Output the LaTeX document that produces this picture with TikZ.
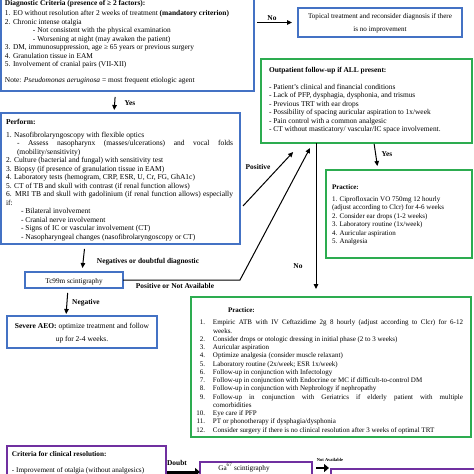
\documentclass[tikz,border=0pt]{standalone}
\usepackage{fontspec}
\setmainfont{Liberation Serif}
\usetikzlibrary{arrows.meta}
\definecolor{bbox}{RGB}{68,114,196}
\definecolor{gbox}{RGB}{45,172,80}
\definecolor{pbox}{RGB}{112,48,160}
\newcommand\numit[1]{\makebox[13pt][r]{#1}\hspace*{8pt}}
\tikzset{
 box/.style={draw, rectangle, anchor=north west, inner sep=0pt, outer sep=0pt},
 bluebox/.style={box, draw=bbox, line width=1.4pt},
 greenbox/.style={box, draw=gbox, line width=1.8pt},
 purplebox/.style={box, draw=pbox, line width=1.6pt},
 txt/.style={anchor=north west, inner sep=0pt, outer sep=0pt, align=left, font=\fontsize{7.4}{8.5}\selectfont},
 ctxt/.style={anchor=north, inner sep=0pt, outer sep=0pt, align=center, font=\fontsize{7.4}{8.5}\selectfont},
 btxt/.style={anchor=base, inner sep=0pt, outer sep=0pt, font=\fontsize{7.2}{8.5}\selectfont},
 lbl/.style={anchor=base, inner sep=0pt, outer sep=0pt, font=\fontsize{7.4}{8.5}\selectfont\bfseries},
 arr/.style={draw=black, line width=1pt, -{Triangle[length=5pt,width=4.5pt]}},
 fat/.style={draw=black, line width=3pt, -{Triangle[length=5pt,width=8pt]}},
}
\begin{document}
\begin{tikzpicture}[x=1pt,y=-1pt]
\useasboundingbox (0,0) rectangle (474,474);
\clip (0,0) rectangle (474,474);
\fill[white] (0,0) rectangle (474,474);

% boxes
\node[bluebox, minimum width=253pt, minimum height=111pt] (b1) at (1,-20) {};
\node[bluebox, minimum width=239pt, minimum height=131pt] (b2) at (1,113) {};
\node[bluebox, minimum width=164pt, minimum height=29pt] (topical) at (298,8) {};
\node[greenbox, minimum width=211pt, minimum height=84pt] (out) at (261,59) {};
\node[greenbox, minimum width=146pt, minimum height=88pt] (prac1) at (326,170) {};
\node[bluebox, minimum width=98pt, minimum height=16pt] (tc) at (25,272) {};
\node[bluebox, minimum width=150pt, minimum height=32pt] (severe) at (7,316) {};
\node[greenbox, minimum width=280pt, minimum height=140pt] (prac2) at (191,297) {};
\node[purplebox, minimum width=159pt, minimum height=60pt] (crit) at (7,446) {};
\node[purplebox, minimum width=112pt, minimum height=50pt] (ga) at (200,462) {};
\node[purplebox, minimum width=150pt, minimum height=40pt] (fin) at (331,469) {};

% texts
\node[txt] (b1t) at (5,-0.95) {\strut\textbf{Diagnostic Criteria (presence of ≥ 2 factors):}\\[2pt]
1. EO without resolution after 2 weeks of treatment \textbf{(mandatory criterion)}\\
2. Chronic intense otalgia\\
\hspace*{28pt}- Not consistent with the physical examination\\
\hspace*{28pt}- Worsening at night (may awaken the patient)\\
3. DM, immunosuppression, age ≥ 65 years or previous surgery\\
4. Granulation tissue in EAM\\
5. Involvement of cranial pairs (VII-XII)\\[7.5pt]
Note: \textit{Pseudomonas aeruginosa} = most frequent etiologic agent};

\node[txt, font=\fontsize{7.5}{8.5}\selectfont] (b2t) at (6,118.05) {\strut\textbf{Perform:}\\[4.5pt]
1. Nasofibrolaryngoscopy with flexible optics\\
\hspace*{11pt}\makebox[216pt][s]{- Assess nasopharynx (masses/ulcerations) and vocal folds}\\
\hspace*{11pt}(mobility/sensitivity)\\
2. Culture (bacterial and fungal) with sensitivity test\\
3. Biopsy (if presence of granulation tissue in EAM)\\
4. Laboratory tests (hemogram, CRP, ESR, U, Cr, FG, GhA1c)\\
5. CT of TB and skull with contrast (if renal function allows)\\
\makebox[227pt][s]{6. MRI TB and skull with gadolinium (if renal function allows) especially}\\
if:\\
\hspace*{15pt}- Bilateral involvement\\
\hspace*{15pt}- Cranial nerve involvement\\
\hspace*{15pt}- Signs of IC or vascular involvement (CT)\\
\hspace*{15pt}- Nasopharyngeal changes (nasofibrolaryngoscopy or CT)};

\node[ctxt, font=\fontsize{7.1}{8.5}\selectfont] (topt) at (380,12.05) {\strut Topical treatment and reconsider diagnosis if there\\[4.5pt] is no improvement};

\node[txt] (outt) at (269,66.05) {\strut\textbf{Outpatient follow-up if ALL present:}\\[8.5pt]
- Patient's clinical and financial conditions\\
- Lack of PFP, dysphagia, dysphonia, and trismus\\
- Previous TRT with ear drops\\
- Possibility of spacing auricular aspiration to 1x/week\\
- Pain control with a common analgesic\\
- CT without masticatory/ vascular/IC space involvement.};

\node[txt, font=\fontsize{7}{8.5}\selectfont] (prac1t) at (332,183.05) {\strut\textbf{Practice:}\\[3.5pt]
1. Ciprofloxacin VO 750mg 12 hourly\\
(adjust according to Clcr) for 4-6 weeks\\
2. Consider ear drops (1-2 weeks)\\
3. Laboratory routine (1x/week)\\
4. Auricular aspiration\\
5. Analgesia};

\node[btxt] (tct) at (74,283) {Tc99m scintigraphy};

\node[ctxt, font=\fontsize{7.5}{8.5}\selectfont] (sevt) at (82,322.05) {\strut\textbf{Severe AEO:} optimize treatment and follow\\[4.5pt] up for 2-4 weeks.};

\node[txt, font=\fontsize{7}{8.25}\selectfont] (prac2t) at (192,307.2) {\strut\hspace*{36pt}\textbf{Practice:}\\[3.75pt]
\numit{1.}\makebox[250pt][s]{Empiric ATB with IV Ceftazidime 2g 8 hourly (adjust according to Clcr) for 6-12}\\
\hspace*{21pt}weeks.\\
\numit{2.}Consider drops or otologic dressing in initial phase (2 to 3 weeks)\\
\numit{3.}Auricular aspiration\\
\numit{4.}Optimize analgesia (consider muscle relaxant)\\
\numit{5.}Laboratory routine (2x/week; ESR 1x/week)\\
\numit{6.}Follow-up in conjunction with Infectology\\
\numit{7.}Follow-up in conjunction with Endocrine or MC if difficult-to-control DM\\
\numit{8.}Follow-up in conjunction with Nephrology if nephropathy\\
\numit{9.}\makebox[250pt][s]{Follow-up in conjunction with Geriatrics if elderly patient with multiple}\\
\hspace*{21pt}comorbidities\\
\numit{10.}Eye care if PFP\\
\numit{11.}PT or phonotherapy if dysphagia/dysphonia\\
\numit{12.}Consider surgery if there is no clinical resolution after 3 weeks of optimal TRT};

\node[txt, font=\fontsize{7.2}{8.5}\selectfont] (critt) at (12,450.05) {\strut\textbf{Criteria for clinical resolution:}\\[7.5pt]
- Improvement of otalgia (without analgesics)};

\node[btxt] (gat) at (244,470) {Ga\textsuperscript{67} scintigraphy};

% labels
\node[lbl] (lno1) at (272,20) {No};
\node[lbl] (lyes1) at (130,105) {Yes};
\node[lbl] (lyes2) at (387,156) {Yes};
\node[lbl] (lpos) at (258,169) {Positive};
\node[lbl] (lno2) at (298,268) {No};
\node[lbl] (lneg1) at (148,263) {Negatives or doubtful diagnostic};
\node[lbl] (lpna) at (175,288) {Positive or Not Available};
\node[lbl] (lneg2) at (86,304) {Negative};
\node[lbl] (ldoubt) at (177,465) {Doubt};
\node[lbl, font=\fontsize{4.5}{5}\selectfont\bfseries] (lna) at (330,461) {Not Available};

% connectors
\draw[arr, shorten <=3pt, shorten >=6pt] (b1.east |- topical.west) -- (topical.west);
\draw[arr, shorten <=6pt, shorten >=3pt] ([xshift=-12pt]b1.south) -- ([xshift=-6.5pt]b2.north);
\draw[arr, shorten <=1pt, shorten >=4pt] ([xshift=7.5pt]out.south) -- ([xshift=-21pt]prac1.north);
\draw[arr, shorten <=4.4pt, shorten >=12.3pt] ([yshift=-30.7pt]b2.east) -- ([xshift=-65pt]out.south);
\draw[arr, shorten >=5.7pt] (tc.east) -- ++(117,0) -- ([xshift=-53.85pt]out.south);
\draw[arr, shorten >=8pt] ([xshift=-50.5pt]out.south) -- ([xshift=-50.5pt]out.south |- prac2.north);
\draw[arr, shorten <=5pt, shorten >=4pt] ([xshift=-35.5pt]b2.south) -- ([xshift=8pt]tc.north);
\draw[arr, shorten <=5pt, shorten >=2pt] ([xshift=-6pt]tc.south) -- ([xshift=-16pt]severe.north);
\draw[fat, shorten <=1pt] ([yshift=-26pt]crit.north east) -- ([yshift=-26pt]crit.north east -| ga.west);
\draw[fat, line width=2.5pt, shorten <=4pt, shorten >=2pt] ([yshift=-6pt]ga.north east) -- ([yshift=-6pt]ga.north east -| fin.west);
\end{tikzpicture}
\end{document}
